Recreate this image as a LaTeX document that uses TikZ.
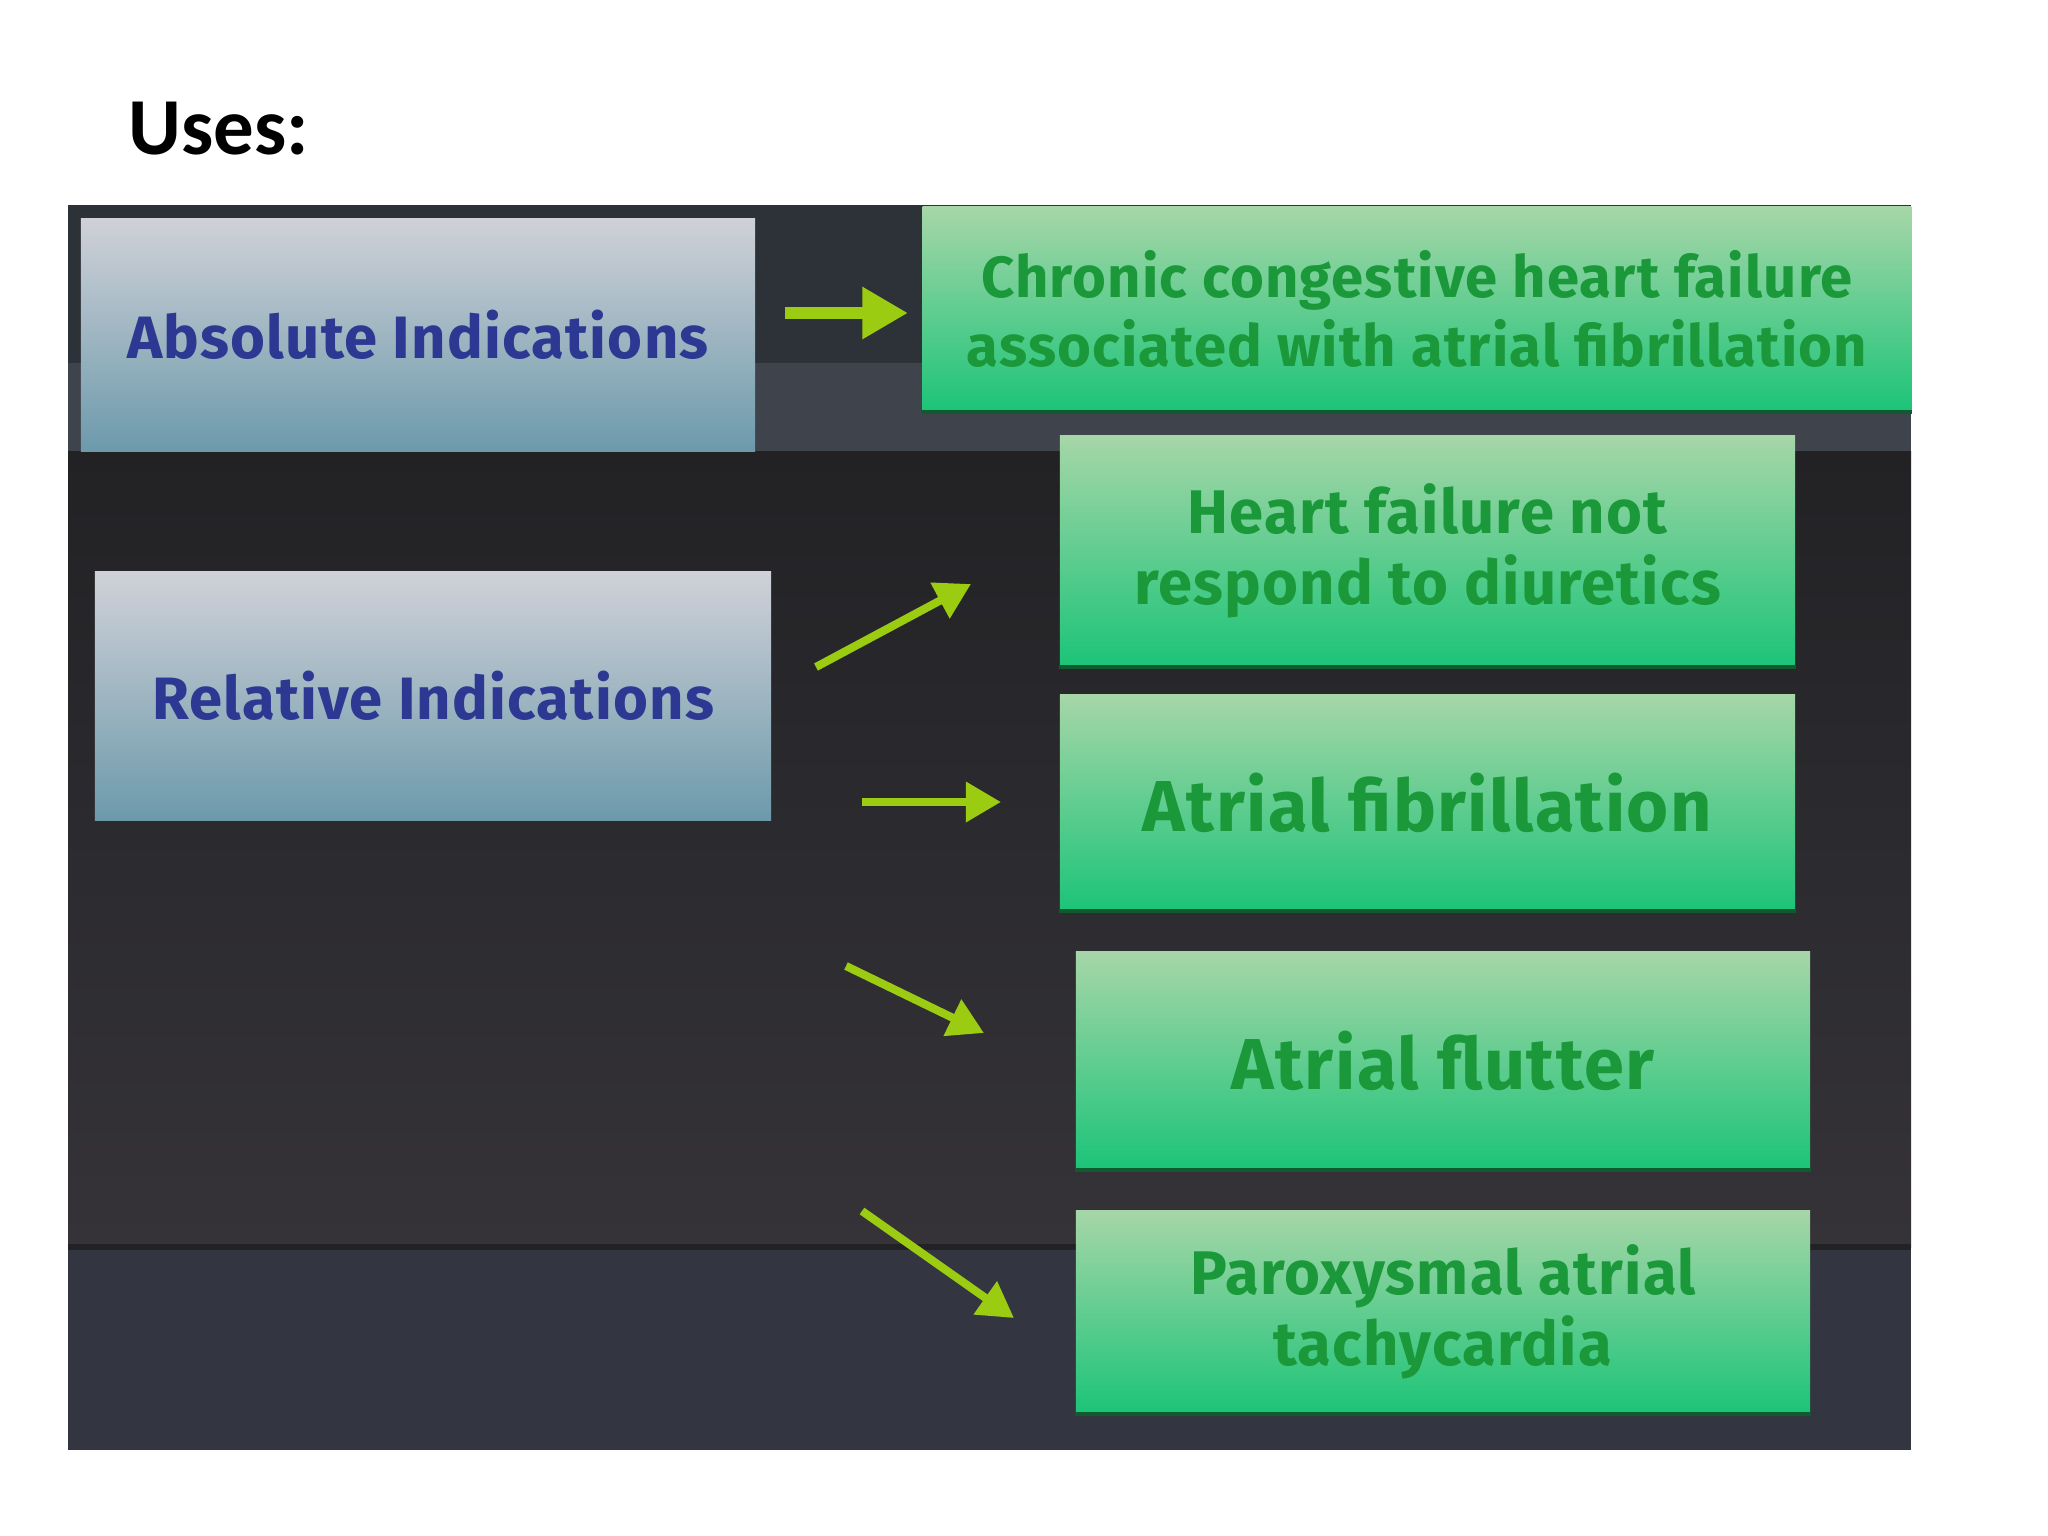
\documentclass[tikz,border=0pt]{standalone}
\usepackage{fontspec}
\setmainfont{Carlito}
\newfontfamily\boxfont[LetterSpace=2]{Fira Sans}
\usetikzlibrary{arrows.meta,positioning}
\definecolor{slatetop}{RGB}{45,49,56}
\definecolor{slatelite}{RGB}{63,67,76}
\definecolor{middark}{RGB}{34,34,37}
\definecolor{midlite}{RGB}{53,51,56}
\definecolor{slatelow}{RGB}{51,53,65}
\definecolor{boxgrey}{RGB}{208,209,216}
\definecolor{boxmid}{RGB}{165,184,200}
\definecolor{boxteal}{RGB}{108,154,171}
\definecolor{indblue}{RGB}{44,56,145}
\definecolor{greentop}{RGB}{166,214,168}
\definecolor{greenmid}{RGB}{88,200,140}
\definecolor{greenbot}{RGB}{28,196,120}
\definecolor{greenedge}{RGB}{16,90,48}
\definecolor{usegreen}{RGB}{26,152,58}
\definecolor{arrowlime}{RGB}{156,204,18}

\begin{document}
\begin{tikzpicture}[x=0.01cm,y=-0.01cm,
    indbox/.style={inner sep=0pt,align=center,top color=boxgrey,middle color=boxmid,bottom color=boxteal,
      text=indblue,font=\boxfont\bfseries\fontsize{17}{20}\selectfont},
    usebox/.style={inner sep=0pt,align=center,top color=greentop,middle color=greenmid,bottom color=greenbot,
      text=usegreen,font=\boxfont\bfseries\fontsize{17.5}{20}\selectfont},
    bigtext/.style={font=\boxfont\bfseries\fontsize{20.5}{25}\selectfont},
    pointer/.style={draw=arrowlime,line width=2.3pt,-{Triangle[length=10pt,width=11pt]}}]
  \useasboundingbox[fill=white] (0,0) rectangle (2048,1536);
  % Titulo
  \node[anchor=base west,font=\bfseries\fontsize{23}{27}\selectfont] (uses) at (116,154) {Uses:};
  % Fondo
  \fill[slatetop] (68,205) rectangle (1911,363);
  \fill[slatelite] (68,363) rectangle (1911,451);
  \shade[top color=middark,bottom color=midlite] (68,451) rectangle (1911,1247);
  \fill[slatelow] (68,1247) rectangle (1911,1450);
  \draw[middark,line width=1.5pt] (68,1247) -- (1911,1247);
  % Indicaciones
  \node[indbox,minimum width=6.74cm,minimum height=2.33cm] (absind) at (418,335) {Absolute Indications};
  \node[indbox,minimum width=6.76cm,minimum height=2.48cm] (relind) at (433,696) {Relative Indications};
  % Usos
  \node[usebox,font=\boxfont\bfseries\fontsize{16.5}{19.6}\selectfont,minimum width=9.88cm,minimum height=2.04cm]
    (chf) at (1417,309) {Chronic congestive heart failure\\associated with atrial fibrillation};
  \node[usebox,minimum width=7.35cm,minimum height=2.30cm] (hfnot) at (1427.5,551)
    {Heart failure not\\respond to diuretics};
  \node[usebox,bigtext,minimum width=7.35cm,minimum height=2.15cm] (afib) at (1427.5,802.5) {Atrial fibrillation};
  \node[usebox,bigtext,minimum width=7.34cm,minimum height=2.17cm] (aflut) at (1443,1060.5) {Atrial flutter};
  \node[usebox,minimum width=7.34cm,minimum height=2.02cm] (pat) at (1443,1312)
    {Paroxysmal atrial\\tachycardia};
  \foreach \n in {chf,hfnot,afib,aflut,pat}
    \draw[greenedge,line width=1.2pt] (\n.south west) -- (\n.south east);
  % Flechas
  \coordinate (a1s) at (785,313);  \coordinate (a1e) at (908,313);
  \coordinate (a2s) at (816,667);  \coordinate (a2e) at (971,584);
  \coordinate (a3s) at (862,802);  \coordinate (a3e) at (1001,802);
  \coordinate (a4s) at (846,966);  \coordinate (a4e) at (984,1033);
  \coordinate (a5s) at (862,1211); \coordinate (a5e) at (1014,1318);
  \draw[pointer,line width=3.6pt,-{Triangle[length=13pt,width=14pt]}] (a1s) -- (a1e);
  \foreach \i in {2,...,5}
    \draw[pointer] (a\i s) -- (a\i e);
\end{tikzpicture}
\end{document}
